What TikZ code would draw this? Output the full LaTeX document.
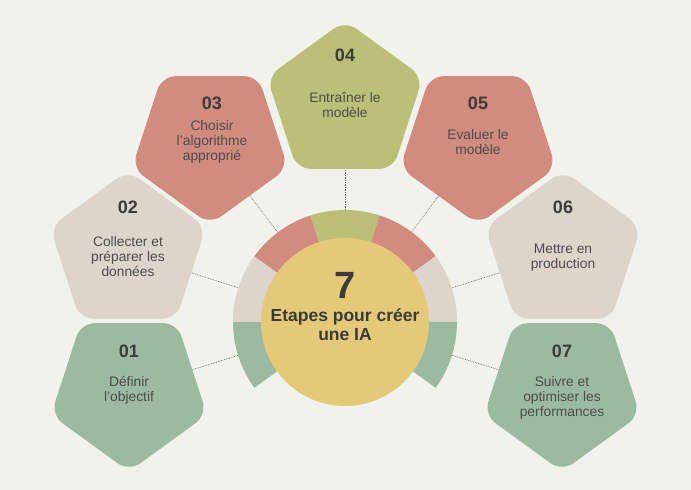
\documentclass[tikz,border=0pt]{standalone}
\usepackage{fontspec}
\setmainfont{Liberation Sans}
\usetikzlibrary{calc}
\definecolor{bgc}{HTML}{F1F2EB}
\definecolor{cgreen}{HTML}{9CBAA1}
\definecolor{cbeige}{HTML}{DDD4CB}
\definecolor{cred}{HTML}{D18B7F}
\definecolor{colive}{HTML}{BBBF78}
\definecolor{cyellow}{HTML}{E4C978}
\definecolor{cnum}{HTML}{3B3B3B}
\definecolor{ctext}{HTML}{4D4D4D}
\definecolor{cline}{HTML}{666666}
\newcommand{\pentshape}[3]{%
  \fill[#1, rounded corners=14pt] ($(#2)+(54+#3:66.34)$) -- ($(#2)+(90+#3:82)$) -- ($(#2)+(162+#3:82)$) -- ($(#2)+(234+#3:82)$) -- ($(#2)+(306+#3:82)$) -- ($(#2)+(18+#3:82)$) -- cycle;}
\newcommand{\ringseg}[3]{%
  \fill[#1] (C) -- ++(#2:112) arc[start angle=#2, end angle=#3, radius=112] -- cycle;}
\tikzset{
  numlbl/.style={font=\fontsize{18}{20}\selectfont\bfseries, text=cnum, inner sep=0pt},
  bodylbl/.style={font=\fontsize{13.8}{15}\selectfont, text=ctext, align=center, inner sep=0pt},
  link/.style={draw=cline, densely dotted, line width=0.7pt}
}
\begin{document}
\begin{tikzpicture}[x=1pt,y=1pt]
\useasboundingbox (0,0) rectangle (691,490);
\fill[bgc] (0,0) rectangle (691,490);
\coordinate (C) at (345,168);
\coordinate (p1) at (129,100.5);
\coordinate (p2) at (128,237.5);
\coordinate (p3) at (210,347.5);
\coordinate (p4) at (345,387.5);
\coordinate (p5) at (478,347.5);
\coordinate (p6) at (563,237.5);
\coordinate (p7) at (562,100.5);
% connectors
\foreach \p in {p1,p2,p3,p4,p5,p6,p7} { \draw[link] (C) -- (\p); }
% ring
\ringseg{cgreen}{180}{216}
\ringseg{cbeige}{144}{180}
\ringseg{cred}{108}{144}
\ringseg{colive}{72}{108}
\ringseg{cred}{36}{72}
\ringseg{cbeige}{0}{36}
\ringseg{cgreen}{-36}{0}
\fill[cyellow] (C) circle[radius=84];
% pentagons
\pentshape{cgreen}{p1}{180}
\pentshape{cbeige}{p2}{0}
\pentshape{cred}{p3}{180}
\pentshape{colive}{p4}{0}
\pentshape{cred}{p5}{180}
\pentshape{cbeige}{p6}{0}
\pentshape{cgreen}{p7}{180}
% center text
\node[font=\fontsize{38}{40}\selectfont\bfseries, text=cnum, inner sep=0pt] (seven) at (345,205) {7};
\node[font=\fontsize{17.5}{19}\selectfont\bfseries, text=cnum, align=center, inner sep=0pt] (title) at (345,165.5) {Etapes pour créer\\une IA};
% labels
\node[numlbl] (n1) at (129,139) {01};
\node[bodylbl] (t1) at (129,99.5) {Définir\\l'objectif};
\node[numlbl] (n2) at (128,283) {02};
\node[bodylbl] (t2) at (128,233) {Collecter et\\préparer les\\données};
\node[numlbl] (n3) at (212,387) {03};
\node[bodylbl] (t3) at (212,348) {Choisir\\l'algorithme\\approprié};
\node[numlbl] (n4) at (345,435) {04};
\node[bodylbl] (t4) at (345,384.5) {Entraîner le\\modèle};
\node[numlbl] (n5) at (478,387) {05};
\node[bodylbl] (t5) at (478,347.5) {Evaluer le\\modèle};
\node[numlbl] (n6) at (563,283) {06};
\node[bodylbl] (t6) at (563,232.5) {Mettre en\\production};
\node[numlbl] (n7) at (562,139) {07};
\node[bodylbl] (t7) at (562,92) {Suivre et\\optimiser les\\performances};
\end{tikzpicture}
\end{document}
